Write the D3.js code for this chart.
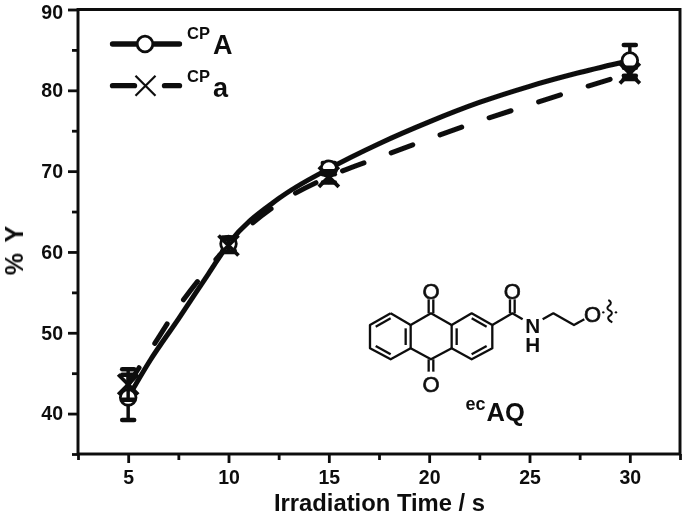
<!DOCTYPE html>
<html><head><meta charset="utf-8">
<script src="https://cdnjs.cloudflare.com/ajax/libs/d3/7.8.5/d3.min.js"></script>
<style>html,body{margin:0;background:#fff}svg{display:block}
text{font-family:"Liberation Sans",Arial,sans-serif;font-weight:bold;fill:#111}</style>
</head><body><div id="c"></div>
<script>
const times = [5, 10, 15, 30];
const seriesA = [42, 61, 70.3, 83.7];
const errorA = [2.8, 0.8, 0.7, 1.9];
const seriesLowerA = [43.6, 60.8, 69.3, 82.1];
const errorLowerA = [1.9, 0.8, 0.7, 0.7];
const curveTimes = [5, 6.1, 7.5, 9, 10, 12.5, 15, 17.5, 20, 22.5, 25, 27.5, 30];
const curveA = [42, 46.6, 51.7, 57.3, 61, 66.6, 70.3, 73.4, 76.1, 78.5, 80.5, 82.2, 83.7];
const curveLowerA = [43.6, 47.8, 53.2, 58, 60.8, 66, 69.3, 71.7, 74, 76.2, 78.2, 80.2, 82.1];
const xTicks = [5, 10, 15, 20, 25, 30];
const xMinor = [2.5, 7.5, 12.5, 17.5, 22.5, 27.5, 32.5];
const yTicks = [40, 50, 60, 70, 80, 90];
const yMinor = [35, 45, 55, 65, 75, 85];
const xTitle = "Irradiation Time / s";
const yTitle = "% Y";

const W = 685, H = 516, L = 78, R = 680, T = 9.5, B = 454;
const ink = "#111";
const svg = d3.select("#c").append("svg").attr("width", W).attr("height", H);
svg.append("defs").append("filter").attr("id", "soft").append("feGaussianBlur").attr("stdDeviation", 0.35);
const root = svg.append("g").attr("filter", "url(#soft)");

const x = d3.scaleLinear().domain([2.5, 32.5]).range([L, R]);
const y = d3.scaleLinear().domain([35, 90]).range([B, T]);

root.append("rect").attr("x", L).attr("y", T).attr("width", R - L).attr("height", B - T)
  .attr("fill", "none").attr("stroke", ink).attr("stroke-width", 3);

function styleAxis(g) {
  g.select(".domain").remove();
  g.selectAll("line").attr("stroke", ink).attr("stroke-width", 2.8);
  g.selectAll("text").attr("font-size", 19.5).attr("fill", ink);
}
const gx = root.append("g").attr("transform", `translate(0,${B})`);
gx.append("g").call(d3.axisBottom(x).tickValues(xMinor).tickSize(6).tickFormat("")).call(styleAxis);
gx.append("g").call(d3.axisBottom(x).tickValues(xTicks).tickSize(9).tickPadding(7).tickFormat(d3.format("d"))).call(styleAxis);
const gy = root.append("g").attr("transform", `translate(${L},0)`);
gy.append("g").call(d3.axisLeft(y).tickValues(yMinor).tickSize(6).tickFormat("")).call(styleAxis);
const gyMajor = gy.append("g").call(d3.axisLeft(y).tickValues(yTicks).tickSize(10).tickPadding(5).tickFormat(d3.format("d"))).call(styleAxis);
// keep the top label inside the picture
gyMajor.selectAll("text").filter(d => d === 90).attr("dy", "0.44em");

root.append("text").attr("x", 379.5).attr("y", 511).attr("text-anchor", "middle").attr("font-size", 23.8).text(xTitle);
root.append("text").attr("transform", "translate(23,249.5) rotate(-90)").attr("text-anchor", "middle")
  .attr("font-size", 25).attr("letter-spacing", 2).text(yTitle);

const line = d3.line().x(d => x(d[0])).y(d => y(d[1])).curve(d3.curveMonotoneX);
const rows = (vals, errs) => times.map((t, i) => ({ t, v: vals[i], e: errs[i] }));
const pts = vals => curveTimes.map((t, i) => [t, vals[i]]);
root.append("path").attr("d", line(pts(curveLowerA))).attr("fill", "none").attr("stroke", ink)
  .attr("stroke-width", 5).attr("stroke-linecap", "round").attr("stroke-dasharray", "23 29").attr("stroke-dashoffset", 3);
root.append("path").attr("d", line(pts(curveA))).attr("fill", "none").attr("stroke", ink).attr("stroke-width", 5);

function errorBars(data) {
  const g = root.append("g").attr("stroke", ink).attr("stroke-width", 4.5).attr("stroke-linecap", "round");
  g.selectAll(".s").data(data).join("line").attr("class", "s").attr("stroke-width", 3.5)
    .attr("x1", d => x(d.t)).attr("x2", d => x(d.t)).attr("y1", d => y(d.v - d.e)).attr("y2", d => y(d.v + d.e));
  [["lo", -1], ["hi", 1]].forEach(([c, s]) => g.selectAll("." + c).data(data).join("line").attr("class", c)
    .attr("x1", d => x(d.t) - 6).attr("x2", d => x(d.t) + 6).attr("y1", d => y(d.v + s * d.e)).attr("y2", d => y(d.v + s * d.e)));
}
errorBars(rows(seriesA, errorA));
root.append("g").selectAll("circle").data(rows(seriesA, errorA)).join("circle")
  .attr("cx", d => x(d.t)).attr("cy", d => y(d.v)).attr("r", 7.8)
  .attr("fill", "#fff").attr("stroke", ink).attr("stroke-width", 2.8);
errorBars(rows(seriesLowerA, errorLowerA));
root.append("g").selectAll("path").data(rows(seriesLowerA, errorLowerA)).join("path")
  .attr("transform", d => `translate(${x(d.t)},${y(d.v)})`).attr("d", "M-10,-10L10,10M-10,10L10,-10")
  .attr("fill", "none").attr("stroke", ink).attr("stroke-width", 3.8);

// legend
const leg = root.append("g").attr("stroke", ink).attr("fill", "none");
const legLine = (a, b, yy) => leg.append("line").attr("x1", a).attr("x2", b).attr("y1", yy).attr("y2", yy)
  .attr("stroke-width", 5.3).attr("stroke-linecap", "round");
legLine(112.5, 179.5, 44);
leg.append("circle").attr("cx", 145).attr("cy", 44).attr("r", 7.8).attr("fill", "#fff").attr("stroke-width", 2.8);
legLine(112.5, 134.5, 85.7);
legLine(164.5, 179.5, 85.7);
leg.append("path").attr("transform", "translate(145.5,85.7)").attr("d", "M-10,-10L10,10M-10,10L10,-10").attr("stroke-width", 2.2);
const legendText = (px, py, t, fs) => root.append("text").attr("x", px).attr("y", py).attr("font-size", fs).text(t);
legendText(187, 39, "CP", 16.5); legendText(213, 54, "A", 27);
legendText(187, 81.5, "CP", 16.5); legendText(213, 97, "a", 27);

// ecAQ structure annotation
const mol = root.append("g").attr("transform", "translate(340,260) scale(0.3333)");
const bonds = [
  [[152,160],[212,195],[273,160],[335,195],[395,160],[457,195],[457,265],[395,298],[335,265],[273,298],[212,265],[152,298],[90,265],[90,195],[152,160]],
  [[212,195],[212,265]],[[335,195],[335,265]],
  [[107,200],[152,175]],[[107,258],[152,283]],[[197,205],[197,255]],
  [[350,205],[350,255]],[[395,175],[440,200]],[[395,283],[440,258]],
  [[266,160],[266,118]],[[280,160],[280,118]],[[266,298],[266,335]],[[280,298],[280,335]],
  [[457,195],[517,160],[548,178]],[[510,160],[510,118]],[[524,160],[524,118]],
  [[608,178],[640,160],[702,195],[733,178]]
];
mol.selectAll("path.b").data(bonds).join("path").attr("class", "b").attr("d", d3.line())
  .attr("fill", "none").attr("stroke", ink).attr("stroke-width", 7).attr("stroke-linejoin", "round");
mol.append("path").attr("d", "M805,120Q820,128 806,138Q796,146 812,153Q822,160 806,170Q800,178 817,187")
  .attr("fill", "none").attr("stroke", ink).attr("stroke-width", 6);
[[790,157],[828,157]].forEach(c => mol.append("circle").attr("cx", c[0]).attr("cy", c[1]).attr("r", 3.5).attr("fill", ink));
const atoms = [["O",273,116],["O",273,396],["O",517,116],["O",758,186]];
mol.selectAll("text.o").data(atoms).join("text").attr("class", "o").attr("x", d => d[1]).attr("y", d => d[2])
  .attr("text-anchor", "middle").attr("font-size", 66).style("font-weight", "normal")
  .attr("stroke", ink).attr("stroke-width", 2).text(d => d[0]);
const nh = mol.append("text").attr("text-anchor", "middle").attr("font-size", 62);
nh.append("tspan").attr("x", 578).attr("y", 218).text("N");
nh.append("tspan").attr("x", 578).attr("y", 275).text("H");
root.append("text").attr("x", 465.5).attr("y", 410).attr("font-size", 18).text("ec");
root.append("text").attr("x", 486.5).attr("y", 421).attr("font-size", 25.5).text("AQ");
</script></body></html>
